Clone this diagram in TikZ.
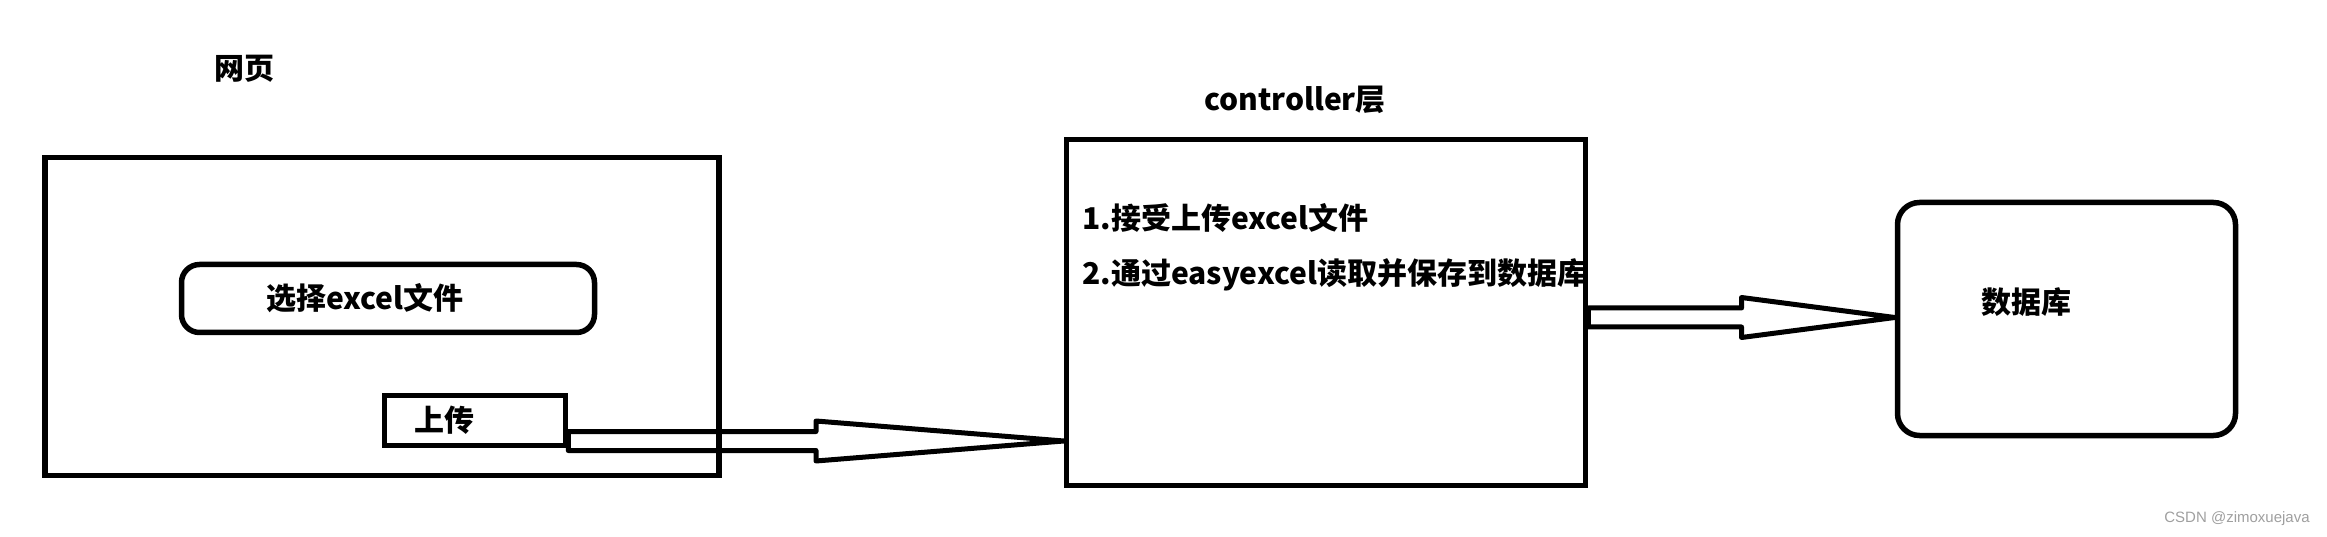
\documentclass[tikz,border=0pt]{standalone}
\usepackage{fontspec}
\setmainfont{Noto Sans CJK SC}
\newfontfamily\wmfont{Liberation Sans}
\usetikzlibrary{positioning, arrows.meta, calc}

\begin{document}
\begin{tikzpicture}[
    x=1pt, y=-1pt,
    box/.style={draw, line width=5.5pt, align=left, inner ysep=0pt, font=\bfseries\fontsize{30}{36}\selectfont},
    capsule/.style={box, rounded corners=18pt},
    dbbox/.style={box, rounded corners=22pt},
    title/.style={inner sep=0pt, font=\bfseries\fontsize{30}{36}\selectfont},
    hollow/.style={line width=5pt, line join=round,
        to path={let \p1=(\tikztostart), \p2=(\tikztotarget), \p3=($(\p1)!0.5!(\p2)$) in
            (\x1,\y1+9.5pt) -- (\x3,\y1+9.5pt) -- (\x3,\y1+20pt) -- (\x2,\y2)
            -- (\x3,\y1-20pt) -- (\x3,\y1-9.5pt) -- (\x1,\y1-9.5pt) -- cycle}},
    wmark/.style={inner sep=0pt, text=gray!75, font=\wmfont\fontsize{15}{18}\selectfont}
]
    \useasboundingbox (0,0) rectangle (2327,537);

    % Web page
    \node[title] (webtitle) at (244,69) {网页};
    \node[box, minimum width=674pt, minimum height=318pt] (web) at (382,316.5) {};
    \node[capsule, minimum height=68pt, inner xsep=84.5pt, text width=244pt] (choose) at (388,298.5) {选择excel文件};
    \node[box, minimum height=50pt, inner xsep=29.5pt, text width=122pt] (up) at (475,420.5) {上传};

    % Controller
    \node[title] (ctrltitle) at (1295,100) {controller层};
    \node[box, minimum width=519pt, minimum height=346pt] (ctrl) at (1326,312.5) {};
    \node[title, align=left, anchor=west, font=\bfseries\fontsize{30}{55}\selectfont] (steps) at (1082,247.5)
        {1.接受上传excel文件\\2.通过easyexcel读取并保存到数据库};

    % Database
    \node[dbbox, minimum width=338pt, minimum height=233pt] (db) at (2066.5,319) {};
    \node[title] (dbname) at ([xshift=-40.5pt,yshift=17pt]db.center) {数据库};

    % Arrows
    \coordinate (a1) at ([yshift=-20.5pt]up.east);
    \draw[hollow] (a1) to (ctrl.west |- a1);
    \coordinate (a2) at ([yshift=-5pt]ctrl.east);
    \draw[hollow] (a2) to (db.west |- a2);

    \node[wmark] (wm) at (2237,519) {CSDN @zimoxuejava};
\end{tikzpicture}
\end{document}
